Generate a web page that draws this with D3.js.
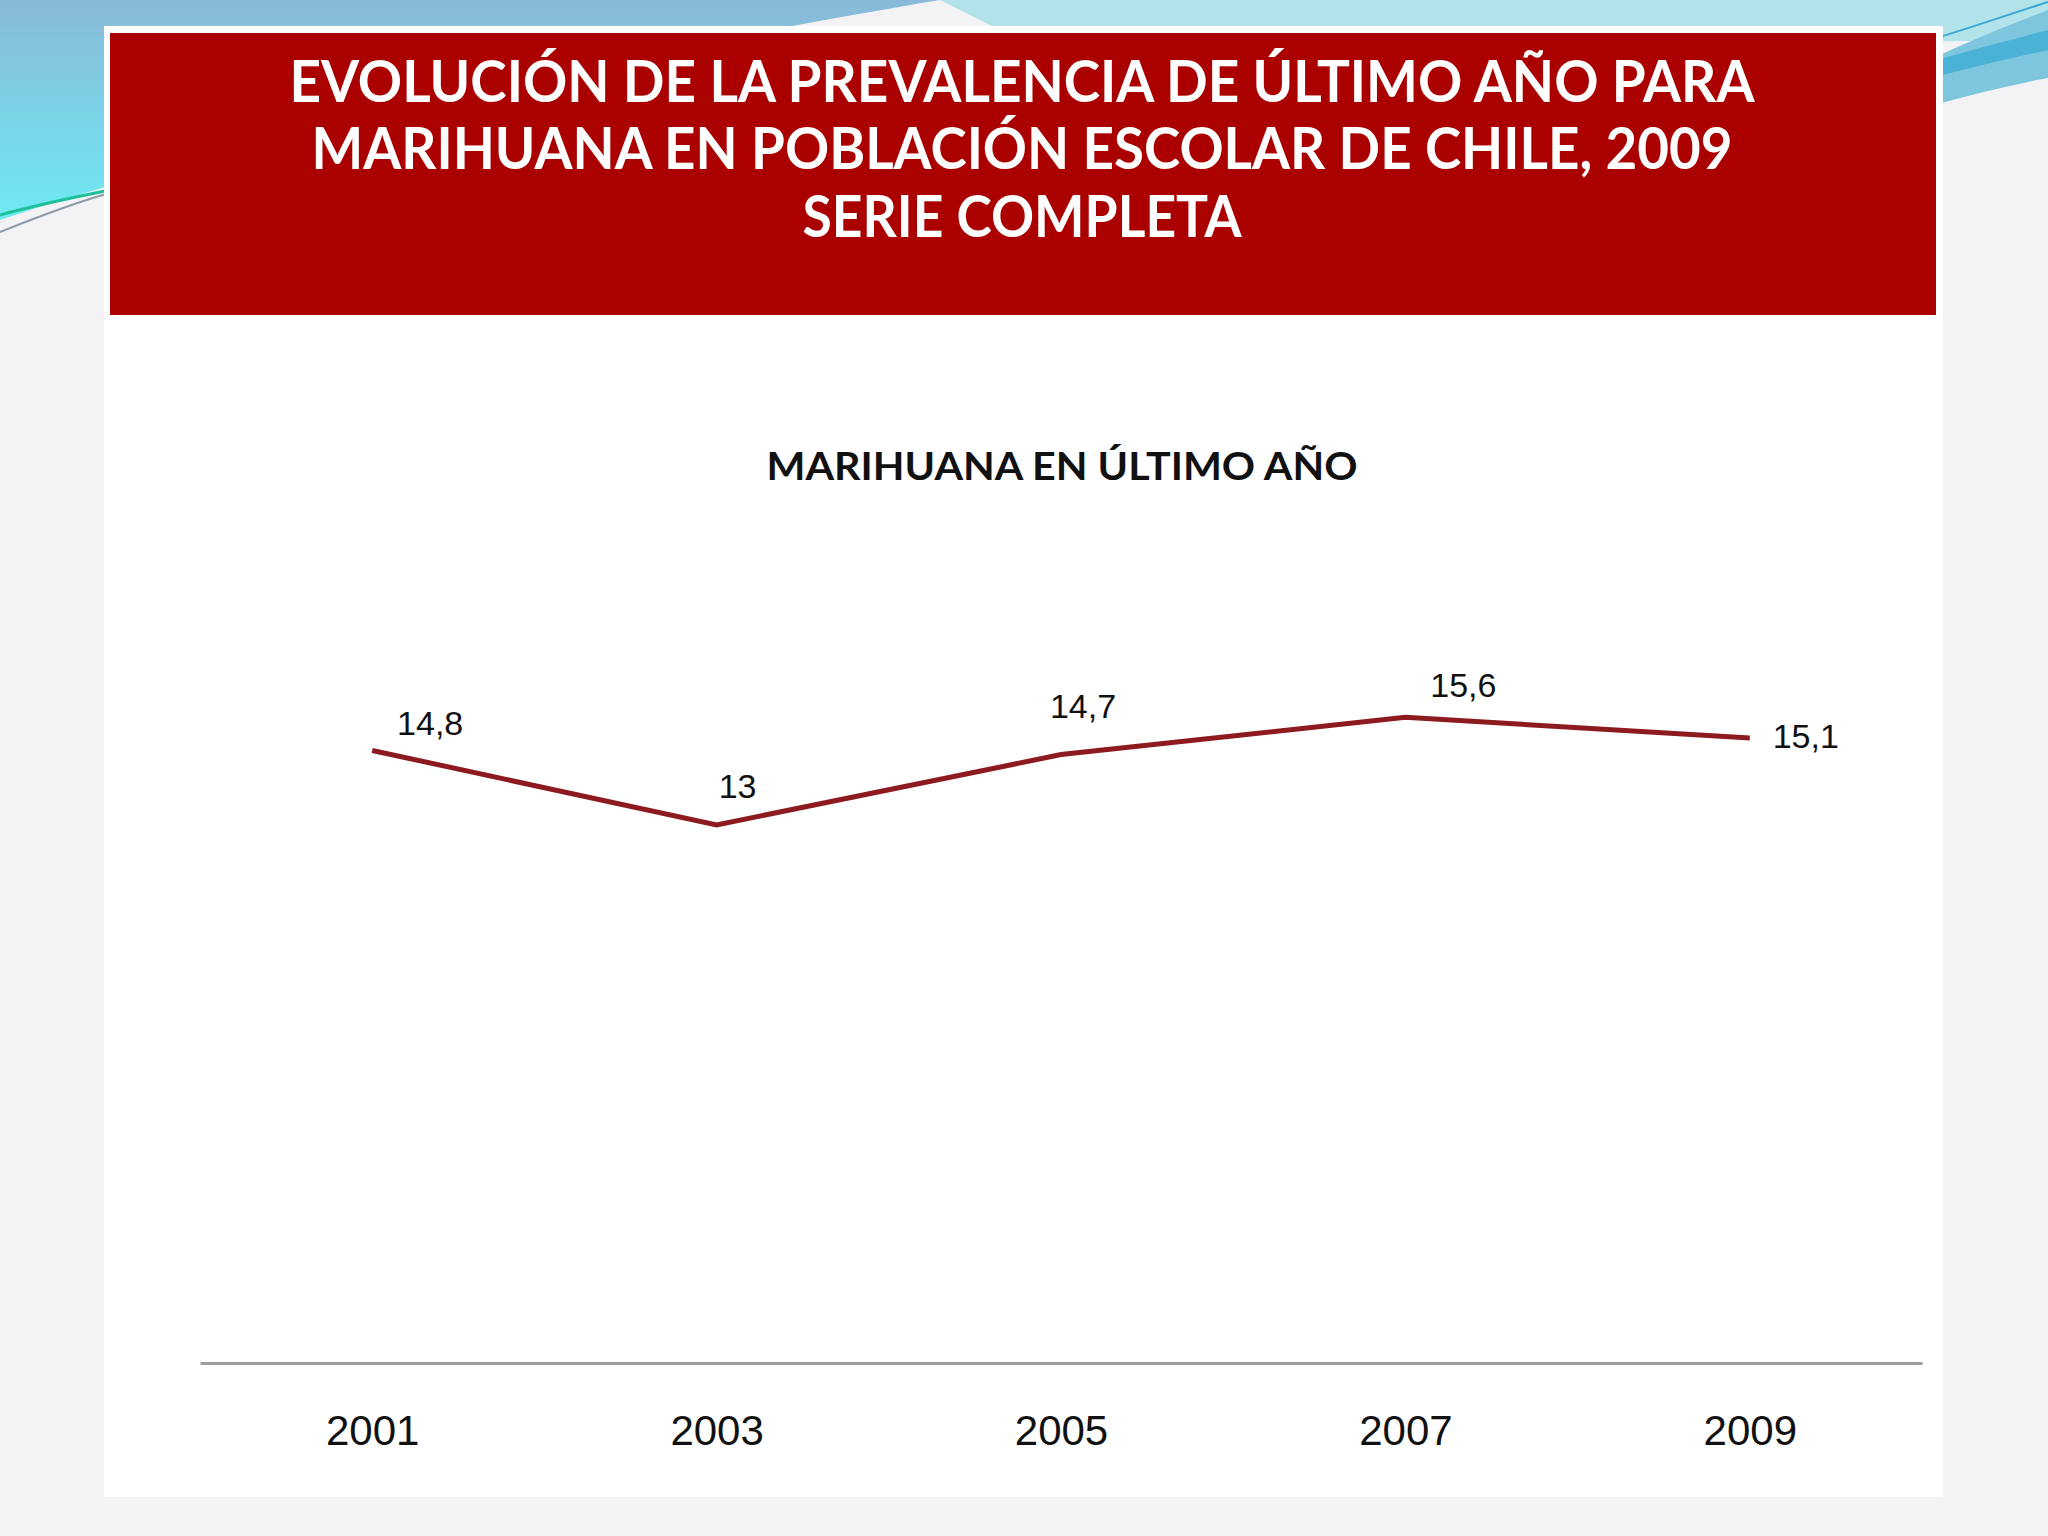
<!DOCTYPE html>
<html>
<head>
<meta charset="utf-8">
<script src="https://cdn.jsdelivr.net/npm/d3@7"></script>
<style>
  html, body { margin: 0; padding: 0; background: #f3f3f5; }
  svg { display: block; }
</style>
</head>
<body>
<div id="chart"></div>
<script>
"use strict";

// data
var years = ["2001", "2003", "2005", "2007", "2009"];
var values = [14.8, 13, 14.7, 15.6, 15.1];
var valueLabels = ["14,8", "13", "14,7", "15,6", "15,1"];
var titleLines = [
  "EVOLUCIÓN DE LA PREVALENCIA DE ÚLTIMO AÑO PARA",
  "MARIHUANA EN POBLACIÓN ESCOLAR DE CHILE, 2009",
  "SERIE COMPLETA"
];
var chartTitle = "MARIHUANA EN ÚLTIMO AÑO";

// where excel left each data label, relative to its point
var labelOffsets = [[58, -15], [21, -27], [22, -37], [58, -20], [56, 10]];

var W = 2048, H = 1536;

var svg = d3.select("#chart").append("svg")
  .attr("width", W).attr("height", H);

var defs = svg.append("defs");
var grad = defs.append("linearGradient").attr("id", "blueGrad")
  .attr("x1", 0).attr("y1", 0).attr("x2", 0).attr("y2", 1);
grad.append("stop").attr("offset", "0%").attr("stop-color", "#89b9d8");
grad.append("stop").attr("offset", "100%").attr("stop-color", "#6eeaf2");

// slide background
svg.append("rect").attr("width", W).attr("height", H).attr("fill", "#f3f3f5");

// top decoration (theme swooshes)
svg.append("path")
  .attr("d", "M940,0 L2048,0 L2048,40 C1700,45 1300,42 1000,30 Z")
  .attr("fill", "#b2e2ea");
svg.append("path")
  .attr("d", "M0,0 L940,0 C700,40 300,120 0,220 Z")
  .attr("fill", "url(#blueGrad)");
svg.append("path")
  .attr("d", "M0,215 C40,204 80,196 110,190")
  .attr("fill", "none").attr("stroke", "#1cc09a").attr("stroke-width", 3);
svg.append("path")
  .attr("d", "M0,232 C40,216 80,201 110,193")
  .attr("fill", "none").attr("stroke", "#8a9aa6").attr("stroke-width", 2);
svg.append("path")
  .attr("d", "M1930,60 C1970,40 2010,25 2048,10 L2048,78 C2010,85 1970,95 1930,106 Z")
  .attr("fill", "#7ec6de");
svg.append("path")
  .attr("d", "M1930,62 C1970,50 2010,40 2048,30 L2048,50 C2010,58 1970,68 1930,78 Z")
  .attr("fill", "#49b2d6");
svg.append("path")
  .attr("d", "M1930,40 C1970,28 2010,14 2048,2")
  .attr("fill", "none").attr("stroke", "#3aa8d0").attr("stroke-width", 2);

// white content panel and red title band
svg.append("rect").attr("x", 104).attr("y", 26).attr("width", 1839).attr("height", 1471)
  .attr("fill", "#ffffff");
svg.append("rect").attr("x", 110).attr("y", 33).attr("width", 1826).attr("height", 282)
  .attr("fill", "#aa0000");

var titleBaselines = [102, 169, 237];
var titleWidths = [1465, 1421, 439];
svg.append("g").selectAll("text").data(titleLines).join("text")
  .attr("x", 1022)
  .attr("y", function (d, i) { return titleBaselines[i]; })
  .attr("text-anchor", "middle")
  .attr("textLength", function (d, i) { return titleWidths[i]; })
  .attr("lengthAdjust", "spacingAndGlyphs")
  .attr("font-family", "Lato, 'DejaVu Sans', sans-serif")
  .attr("font-weight", "bold")
  .attr("font-size", 58)
  .attr("fill", "#ffffff")
  .text(function (d) { return d; });

// chart title
svg.append("text")
  .attr("x", 1062).attr("y", 480)
  .attr("text-anchor", "middle")
  .attr("textLength", 591)
  .attr("lengthAdjust", "spacingAndGlyphs")
  .attr("font-family", "Lato, 'DejaVu Sans', sans-serif")
  .attr("font-weight", "bold")
  .attr("font-size", 39)
  .attr("fill", "#111111")
  .text(chartTitle);

// scales
var x = d3.scalePoint().domain(years).range([200, 1922]).padding(0.5);
var y = d3.scaleLinear().domain([0, 18]).range([1363, 618]);

var data = years.map(function (yr, i) {
  return { year: yr, value: values[i], label: valueLabels[i], off: labelOffsets[i] };
});

// x axis
var axis = svg.append("g")
  .attr("transform", "translate(0," + y(0) + ")")
  .call(d3.axisBottom(x).tickSize(0).tickSizeOuter(0).tickPadding(52));
axis.select(".domain").attr("stroke", "#9e9e9e").attr("stroke-width", 3);
axis.selectAll(".tick text")
  .attr("font-family", "'Liberation Sans', Arial, sans-serif")
  .attr("font-size", 42)
  .attr("fill", "#111111");

// the line
var line = d3.line()
  .x(function (d) { return x(d.year); })
  .y(function (d) { return y(d.value); });

svg.append("path").datum(data)
  .attr("fill", "none")
  .attr("stroke", "#8c1a1e")
  .attr("stroke-width", 5)
  .attr("stroke-linejoin", "miter")
  .attr("d", line);

// value labels
svg.append("g").selectAll("text").data(data).join("text")
  .attr("x", function (d) { return x(d.year) + d.off[0]; })
  .attr("y", function (d) { return y(d.value) + d.off[1]; })
  .attr("text-anchor", "middle")
  .attr("font-family", "'Liberation Sans', Arial, sans-serif")
  .attr("font-size", 34)
  .attr("fill", "#111111")
  .text(function (d) { return d.label; });
</script>
</body>
</html>
